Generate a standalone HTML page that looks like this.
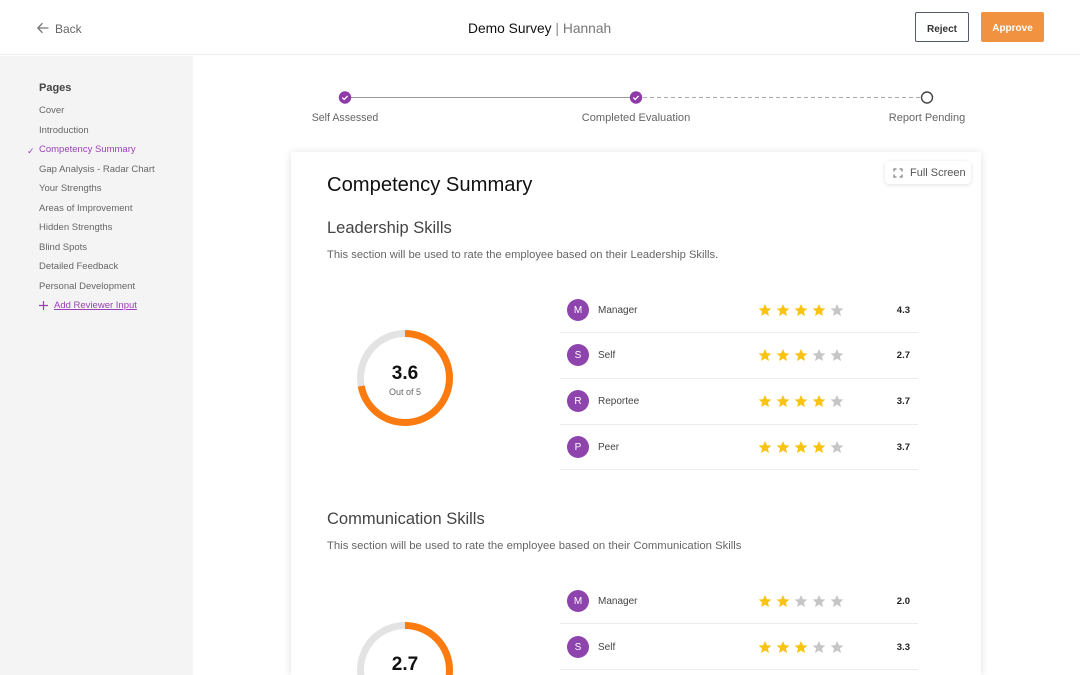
<!DOCTYPE html>
<html style="width:1080px;height:675px;overflow:hidden"><head><meta charset="utf-8">
<style>
*{margin:0;padding:0;box-sizing:border-box}
html,body{width:1080px;height:675px;overflow:hidden}
body{background:#fff;font-family:"Liberation Sans",sans-serif;position:relative}
#wrap{position:relative;width:1080px;height:675px;overflow:hidden}
.abs{position:absolute;white-space:nowrap}
.header{position:absolute;left:0;top:0;width:1080px;height:55px;background:#fff;border-bottom:1px solid #ececec}
.sidebar{position:absolute;left:0;top:56px;width:193px;height:619px;background:#f4f4f4}
.side-item{position:absolute;left:39px;font-size:9.5px;color:#666;line-height:12px}
.card{position:absolute;left:291px;top:152px;width:690px;height:523px;background:#fff;box-shadow:0 1px 8px rgba(0,0,0,0.13)}
.row-sep{position:absolute;left:560px;width:358px;height:1px;background:#ececec}
.av{position:absolute;width:22px;height:22px;border-radius:50%;background:#8e44ad;color:#fff;font-size:10px;text-align:center;line-height:24px}
.lbl{position:absolute;font-size:10px;color:#444;line-height:12px}
.val{position:absolute;font-size:9.5px;color:#222;font-weight:bold;line-height:12px;width:30px;text-align:right}
</style></head><body><div id="wrap">

<div class="header">
  <svg class="abs" style="left:36px;top:21px" width="14" height="14" viewBox="0 0 14 14"><path d="M12.5 7H2M6.5 2.2L1.8 7l4.7 4.8" stroke="#777" stroke-width="1.3" fill="none"/></svg>
  <div class="abs" style="left:55px;top:22px;font-size:12px;color:#666;line-height:14px">Back</div>
  <div class="abs" style="left:468px;top:21px;font-size:13.8px;line-height:16px;color:#111"><span>Demo Survey</span> <span style="color:#888">|</span> <span style="color:#777">Hannah</span></div>
  <div class="abs" style="left:915px;top:12px;width:54px;height:30px;border:1px solid #555a6a;border-radius:2px;font-size:10px;font-weight:bold;color:#333;text-align:center;line-height:33px">Reject</div>
  <div class="abs" style="left:981px;top:12px;width:63px;height:30px;background:#f0923f;border-radius:2px;font-size:10px;font-weight:bold;color:#fff;text-align:center;line-height:34px">Approve</div>
</div>

<div class="sidebar"></div>
<div class="abs" style="left:39px;top:82px;font-size:11px;font-weight:bold;color:#444;line-height:13px">Pages</div>
<div class="side-item" style="top:105px">Cover</div>
<div class="side-item" style="top:125px">Introduction</div>
<div class="abs" style="left:27px;top:145px;font-size:9px;color:#9c3fb8;line-height:12px">✓</div>
<div class="side-item" style="top:144px;color:#9c3fb8">Competency Summary</div>
<div class="side-item" style="top:164px">Gap Analysis - Radar Chart</div>
<div class="side-item" style="top:183px">Your Strengths</div>
<div class="side-item" style="top:203px">Areas of Improvement</div>
<div class="side-item" style="top:222px">Hidden Strengths</div>
<div class="side-item" style="top:242px">Blind Spots</div>
<div class="side-item" style="top:261px">Detailed Feedback</div>
<div class="side-item" style="top:281px">Personal Development</div>
<svg class="abs" style="left:38px;top:300px" width="11" height="11" viewBox="0 0 11 11"><path d="M5.5 1v9M1 5.5h9" stroke="#9c3fb8" stroke-width="1.2"/></svg>
<div class="side-item" style="left:54px;top:300px;color:#9c3fb8;text-decoration:underline">Add Reviewer Input</div>

<!-- stepper -->
<svg class="abs" style="left:330px;top:85px" width="612" height="24">
  <line x1="15" y1="12.5" x2="306" y2="12.5" stroke="#9a9a9a" stroke-width="1"/>
  <line x1="306" y1="12.5" x2="597" y2="12.5" stroke="#aaa" stroke-width="1" stroke-dasharray="4,3"/>
  <circle cx="15" cy="12.5" r="6.2" fill="#8e3ba8"/>
  <path d="M12.3 12.6l1.9 1.9 3.4-3.6" stroke="#fff" stroke-width="1.3" fill="none"/>
  <circle cx="306" cy="12.5" r="6.2" fill="#8e3ba8"/>
  <path d="M303.3 12.6l1.9 1.9 3.4-3.6" stroke="#fff" stroke-width="1.3" fill="none"/>
  <circle cx="597" cy="12.5" r="5.5" fill="#fff" stroke="#444" stroke-width="1.4"/>
</svg>
<div class="abs" style="left:245px;top:111px;width:200px;text-align:center;font-size:10.6px;color:#666;line-height:14px">Self Assessed</div>
<div class="abs" style="left:536px;top:111px;width:200px;text-align:center;font-size:11.1px;color:#666;line-height:14px">Completed Evaluation</div>
<div class="abs" style="left:827px;top:111px;width:200px;text-align:center;font-size:11px;color:#666;line-height:14px">Report Pending</div>

<div class="card"></div>
<div class="abs" style="left:885px;top:161px;width:86px;height:23px;background:#fff;border-radius:4px;box-shadow:0 1px 4px rgba(0,0,0,0.12)"></div>
<svg class="abs" style="left:893px;top:168px" width="10" height="10" viewBox="0 0 10 10"><path d="M1 3.5V1h2.5M6.5 1H9v2.5M9 6.5V9H6.5M3.5 9H1V6.5" stroke="#666" stroke-width="1" fill="none"/></svg>
<div class="abs" style="left:910px;top:167px;font-size:11px;color:#555;line-height:13px">Full Screen</div>

<div class="abs" style="left:327px;top:174px;font-size:20.2px;color:#111;line-height:23px">Competency Summary</div>
<div class="abs" style="left:327px;top:218px;font-size:16.5px;color:#444;line-height:20px;font-weight:300">Leadership Skills</div>
<div class="abs" style="left:327px;top:249px;font-size:11.2px;color:#666;line-height:12px">This section will be used to rate the employee based on their Leadership Skills.</div>

<!-- donut 1 -->
<svg class="abs" style="left:355px;top:328px" width="100" height="100">
  <circle cx="50" cy="50" r="44.5" fill="none" stroke="#e3e3e3" stroke-width="7"/>
  <circle cx="50" cy="50" r="44.5" fill="none" stroke="#fb7b10" stroke-width="7" stroke-dasharray="201.3 280" transform="rotate(-90 50 50)"/>
</svg>
<div class="abs" style="left:355px;top:363px;width:100px;text-align:center;font-size:19px;font-weight:bold;color:#111;line-height:22px">3.6</div>
<div class="abs" style="left:355px;top:387px;width:100px;text-align:center;font-size:9px;color:#666;line-height:11px">Out of 5</div>

<!-- donut 2 (clipped at frame bottom) -->
<svg class="abs" style="left:355px;top:620px" width="100" height="55" viewBox="0 0 100 55">
  <circle cx="50" cy="50" r="44.5" fill="none" stroke="#e3e3e3" stroke-width="7"/>
  <circle cx="50" cy="50" r="44.5" fill="none" stroke="#fb7b10" stroke-width="7" stroke-dasharray="151 280" transform="rotate(-90 50 50)"/>
</svg>
<div class="abs" style="left:355px;top:654px;width:100px;text-align:center;font-size:19px;font-weight:bold;color:#111;line-height:21px;height:21px;overflow:hidden">2.7</div>

<div class="abs" style="left:327px;top:509px;font-size:16.5px;color:#444;line-height:20px;font-weight:300">Communication Skills</div>
<div class="abs" style="left:327px;top:540px;font-size:11.3px;color:#666;line-height:12px">This section will be used to rate the employee based on their Communication Skills</div>

<svg width="0" height="0" style="position:absolute;left:0;top:0"><defs>
<polygon id="st" points="0,-6.5 1.9,-2.2 6.4,-2 2.9,1 4,5.5 0,3.1 -4,5.5 -2.9,1 -6.4,-2 -1.9,-2.2"/>
</defs></svg>

<!-- rows section 1 -->
<div class="av" style="left:567px;top:299px">M</div><div class="lbl" style="left:598px;top:305px">Manager</div>
<svg class="abs" style="left:755px;top:301px" width="95" height="18"><g fill="#f9c312"><use href="#st" x="10" y="9.5"/><use href="#st" x="28" y="9.5"/><use href="#st" x="46" y="9.5"/><use href="#st" x="64" y="9.5"/></g><use href="#st" x="82" y="9.5" fill="#c6c6c6"/></svg>
<div class="val" style="left:880px;top:305px">4.3</div>
<div class="row-sep" style="top:332px"></div>

<div class="av" style="left:567px;top:344px">S</div><div class="lbl" style="left:598px;top:350px">Self</div>
<svg class="abs" style="left:755px;top:346px" width="95" height="18"><g fill="#f9c312"><use href="#st" x="10" y="9.5"/><use href="#st" x="28" y="9.5"/><use href="#st" x="46" y="9.5"/></g><g fill="#c6c6c6"><use href="#st" x="64" y="9.5"/><use href="#st" x="82" y="9.5"/></g></svg>
<div class="val" style="left:880px;top:350px">2.7</div>
<div class="row-sep" style="top:378px"></div>

<div class="av" style="left:567px;top:390px">R</div><div class="lbl" style="left:598px;top:396px">Reportee</div>
<svg class="abs" style="left:755px;top:392px" width="95" height="18"><g fill="#f9c312"><use href="#st" x="10" y="9.5"/><use href="#st" x="28" y="9.5"/><use href="#st" x="46" y="9.5"/><use href="#st" x="64" y="9.5"/></g><use href="#st" x="82" y="9.5" fill="#c6c6c6"/></svg>
<div class="val" style="left:880px;top:396px">3.7</div>
<div class="row-sep" style="top:424px"></div>

<div class="av" style="left:567px;top:436px">P</div><div class="lbl" style="left:598px;top:442px">Peer</div>
<svg class="abs" style="left:755px;top:438px" width="95" height="18"><g fill="#f9c312"><use href="#st" x="10" y="9.5"/><use href="#st" x="28" y="9.5"/><use href="#st" x="46" y="9.5"/><use href="#st" x="64" y="9.5"/></g><use href="#st" x="82" y="9.5" fill="#c6c6c6"/></svg>
<div class="val" style="left:880px;top:442px">3.7</div>
<div class="row-sep" style="top:469px"></div>

<!-- rows section 2 -->
<div class="av" style="left:567px;top:590px">M</div><div class="lbl" style="left:598px;top:596px">Manager</div>
<svg class="abs" style="left:755px;top:592px" width="95" height="18"><g fill="#f9c312"><use href="#st" x="10" y="9.5"/><use href="#st" x="28" y="9.5"/></g><g fill="#c6c6c6"><use href="#st" x="46" y="9.5"/><use href="#st" x="64" y="9.5"/><use href="#st" x="82" y="9.5"/></g></svg>
<div class="val" style="left:880px;top:596px">2.0</div>
<div class="row-sep" style="top:623px"></div>

<div class="av" style="left:567px;top:636px">S</div><div class="lbl" style="left:598px;top:642px">Self</div>
<svg class="abs" style="left:755px;top:638px" width="95" height="18"><g fill="#f9c312"><use href="#st" x="10" y="9.5"/><use href="#st" x="28" y="9.5"/><use href="#st" x="46" y="9.5"/></g><g fill="#c6c6c6"><use href="#st" x="64" y="9.5"/><use href="#st" x="82" y="9.5"/></g></svg>
<div class="val" style="left:880px;top:642px">3.3</div>
<div class="row-sep" style="top:669px"></div>

</div></body></html>
